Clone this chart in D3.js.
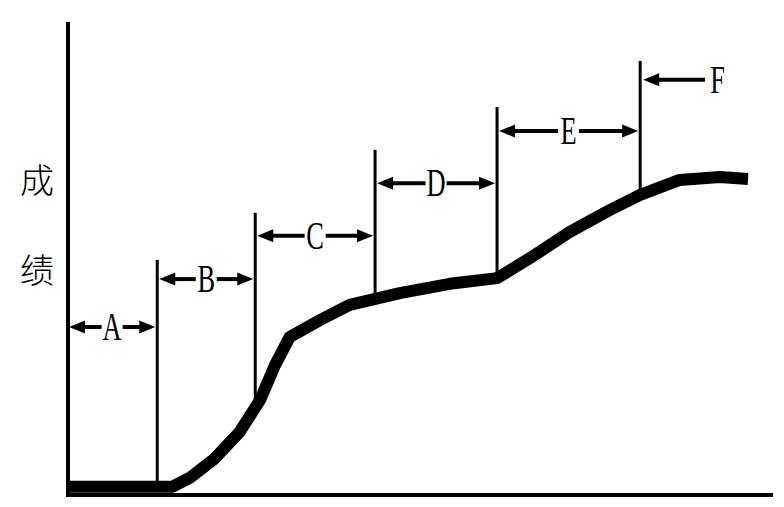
<!DOCTYPE html>
<html>
<head>
<meta charset="utf-8">
<script src="https://cdn.jsdelivr.net/npm/d3@7"></script>
<style>
  body { margin: 0; background: #fff; }
</style>
</head>
<body>
<div id="chart"></div>
<script>
var width = 784, height = 507;

// learning curve (x: time 0-100, y: score 0-100)
var curveX = [0, 14.9, 17.4, 21.0, 24.5, 27.4, 29.5, 31.6, 35.9, 40.1, 47.2, 54.3, 61.0, 65.7, 71.3, 77.0, 81.3, 86.9, 92.6, 96.6];
var curveY = [1.1, 1.1, 3.0, 7.2, 12.8, 19.6, 27.0, 33.0, 36.6, 39.8, 42.3, 44.3, 45.5, 49.8, 55.3, 60.0, 63.2, 66.4, 67.0, 66.6];

// stage dividers and their labels
var stageNames = ["A", "B", "C", "D", "E", "F"];
var dividerX = [12.8, 26.7, 43.7, 61.0, 81.3];
var dividerTop = [49.4, 59.4, 72.8, 81.9, 91.7];
var labelY = [35.1, 45.3, 54.5, 65.7, 76.8, 87.7];
var fEnd = 90.5; // where the last (open) arrow ends

var yLabel = ["成", "绩"];

var x = d3.scaleLinear().domain([0, 100]).range([67, 772]);
var y = d3.scaleLinear().domain([0, 100]).range([492, 22]);

var svg = d3.select("#chart").append("svg")
    .attr("width", width)
    .attr("height", height);

var curveData = curveX.map(function(d, i) { return [d, curveY[i]]; });

function curveAt(v) {
  for (var i = 1; i < curveX.length; i++) {
    if (v <= curveX[i]) {
      var t = (v - curveX[i - 1]) / (curveX[i] - curveX[i - 1]);
      return curveY[i - 1] + t * (curveY[i] - curveY[i - 1]);
    }
  }
  return curveY[curveY.length - 1];
}

// axes
svg.append("line")
    .attr("x1", x(0) + 1).attr("x2", x(0) + 1)
    .attr("y1", y(100)).attr("y2", y(0) + 5)
    .attr("stroke", "#000").attr("stroke-width", 4);
svg.append("line")
    .attr("x1", x(0)).attr("x2", x(100) + 1)
    .attr("y1", y(0) + 3).attr("y2", y(0) + 3)
    .attr("stroke", "#000").attr("stroke-width", 4);

// dividers
svg.selectAll(".divider")
    .data(dividerX)
    .enter().append("line")
    .attr("class", "divider")
    .attr("x1", function(d) { return x(d); })
    .attr("x2", function(d) { return x(d); })
    .attr("y1", function(d, i) { return y(dividerTop[i]); })
    .attr("y2", function(d) { return y(curveAt(d)); })
    .attr("stroke", "#000")
    .attr("stroke-width", 3);

// curve
var line = d3.line()
    .x(function(d) { return x(d[0]); })
    .y(function(d) { return y(d[1]); });

svg.append("path")
    .datum(curveData)
    .attr("d", line)
    .attr("fill", "none")
    .attr("stroke", "#000")
    .attr("stroke-width", 12)
    .attr("stroke-linejoin", "round");

// arrow helpers
function arrowHead(xTip, yy, dir) {
  // dir = -1 points left, 1 points right
  var len = 16, half = 6.5;
  svg.append("path")
      .attr("d", "M" + xTip + "," + yy +
                 "L" + (xTip - dir * len) + "," + (yy - half) +
                 "L" + (xTip - dir * len) + "," + (yy + half) + "Z")
      .attr("fill", "#000");
}

function shaft(xa, xb, yy) {
  svg.append("line")
      .attr("x1", xa).attr("x2", xb)
      .attr("y1", yy).attr("y2", yy)
      .attr("stroke", "#000")
      .attr("stroke-width", 4);
}

var bounds = [0].concat(dividerX);

stageNames.forEach(function(name, i) {
  var left = x(bounds[i]) + 2;
  var yy = y(labelY[i]);
  var textW = 19;
  var cx;
  if (i < 5) {
    var right = x(dividerX[i]) - 2;
    cx = (left + right) / 2;
    arrowHead(left, yy, -1);
    shaft(left + 8, cx - textW / 2 - 1, yy);
    arrowHead(right, yy, 1);
    shaft(cx + textW / 2 + 1, right - 8, yy);
  } else {
    var end = x(fEnd);
    arrowHead(left + 1, yy, -1);
    shaft(left + 8, end, yy);
    cx = end + 3 + textW / 2;
  }
  svg.append("text")
      .attr("transform", "translate(" + cx + "," + (yy + 13) + ") scale(0.66,1)")
      .attr("text-anchor", "middle")
      .style("font-family", "'Liberation Serif', 'DejaVu Serif', serif")
      .style("font-size", "40px")
      .text(name);
});

// y label
svg.selectAll(".ylab")
    .data(yLabel)
    .enter().append("text")
    .attr("class", "ylab")
    .attr("x", 37)
    .attr("y", function(d, i) { return 193 + i * 90; })
    .attr("text-anchor", "middle")
    .style("font-family", "'Noto Sans CJK SC', sans-serif")
    .style("font-weight", 300)
    .style("font-size", "34px")
    .text(function(d) { return d; });
</script>
</body>
</html>
